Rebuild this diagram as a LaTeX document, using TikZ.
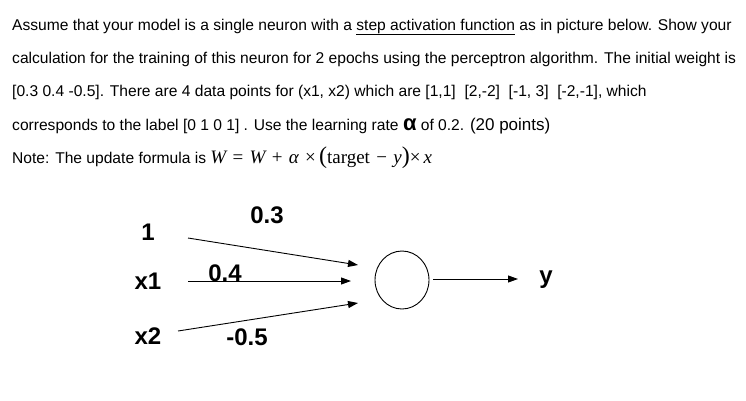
\documentclass[tikz,border=0pt]{standalone}
\usepackage{fontspec}
\setmainfont{Liberation Sans}
\newfontfamily\serif{Liberation Serif}
\usetikzlibrary{arrows.meta}
\begin{document}
\begin{tikzpicture}[x=1pt,y=-1pt,
  txt/.style={anchor=base west,inner sep=0pt,font=\fontsize{15.6}{17}\selectfont},
  lbl/.style={inner sep=0pt,font=\fontsize{24}{26}\selectfont\bfseries},
  conn/.style={line width=0.9pt,-{Triangle[length=10pt,width=7pt]}}]
\useasboundingbox[fill=white] (0,0) rectangle (746,400);
\node[txt] (l1) at (12,30) {Assume that your model is a single neuron with a \underline{step activation function} as in picture below. Show your};
\node[txt] (l2) at (12,63) {calculation for the training of this neuron for 2 epochs using the perceptron algorithm. The initial weight is};
\node[txt] (l3) at (12,96) {[0.3 0.4 -0.5]. There are 4 data points for (x1, x2) which are [1,1]\ \ [2,-2]\ \ [-1, 3]\ \ [-2,-1], which};
\node[txt] (l4) at (12,130) {corresponds to the label [0 1 0 1] . Use the learning rate {\fontsize{22}{20}\selectfont\bfseries α} of 0.2. {\fontsize{17}{18}\selectfont(20 points)}};
\node[txt] (l5) at (12,163) {Note: The update formula is {\serif\fontsize{19}{20}\selectfont\itshape W\upshape\,\,=\,\,\itshape W\upshape\,\,+\,\,\itshape α\upshape\,\,×\,{\fontsize{24}{24}\selectfont(}target\,\,−\,\,\itshape y\upshape{\fontsize{24}{24}\selectfont)}×\,\itshape x}};
\node[lbl] (i0) at (148,232) {1};
\node[lbl] (i1) at (148,281) {x1};
\node[lbl] (i2) at (148,336) {x2};
\node[lbl] (w0) at (267,215) {0.3};
\node[lbl] (w1) at (225,273) {0.4};
\node[lbl] (w2) at (247,337) {-0.5};
\draw[line width=0.9pt] (402,280) ellipse [x radius=27, y radius=29];
\coordinate (n) at (402,280);
\node[lbl] (y) at (546,280) {y};
\coordinate (s0) at (188,238); \coordinate (e0) at (358,265);
\coordinate (s1) at (188,281); \coordinate (e1) at (351,281);
\coordinate (s2) at (178,331); \coordinate (e2) at (358,303);
\coordinate (o) at (433,279); \coordinate (e3) at (518,279);
\draw[conn] (s0) -- (e0);
\draw[conn] (s1) -- (e1);
\draw[conn] (s2) -- (e2);
\draw[conn] (o) -- (e3);
\end{tikzpicture}
\end{document}
